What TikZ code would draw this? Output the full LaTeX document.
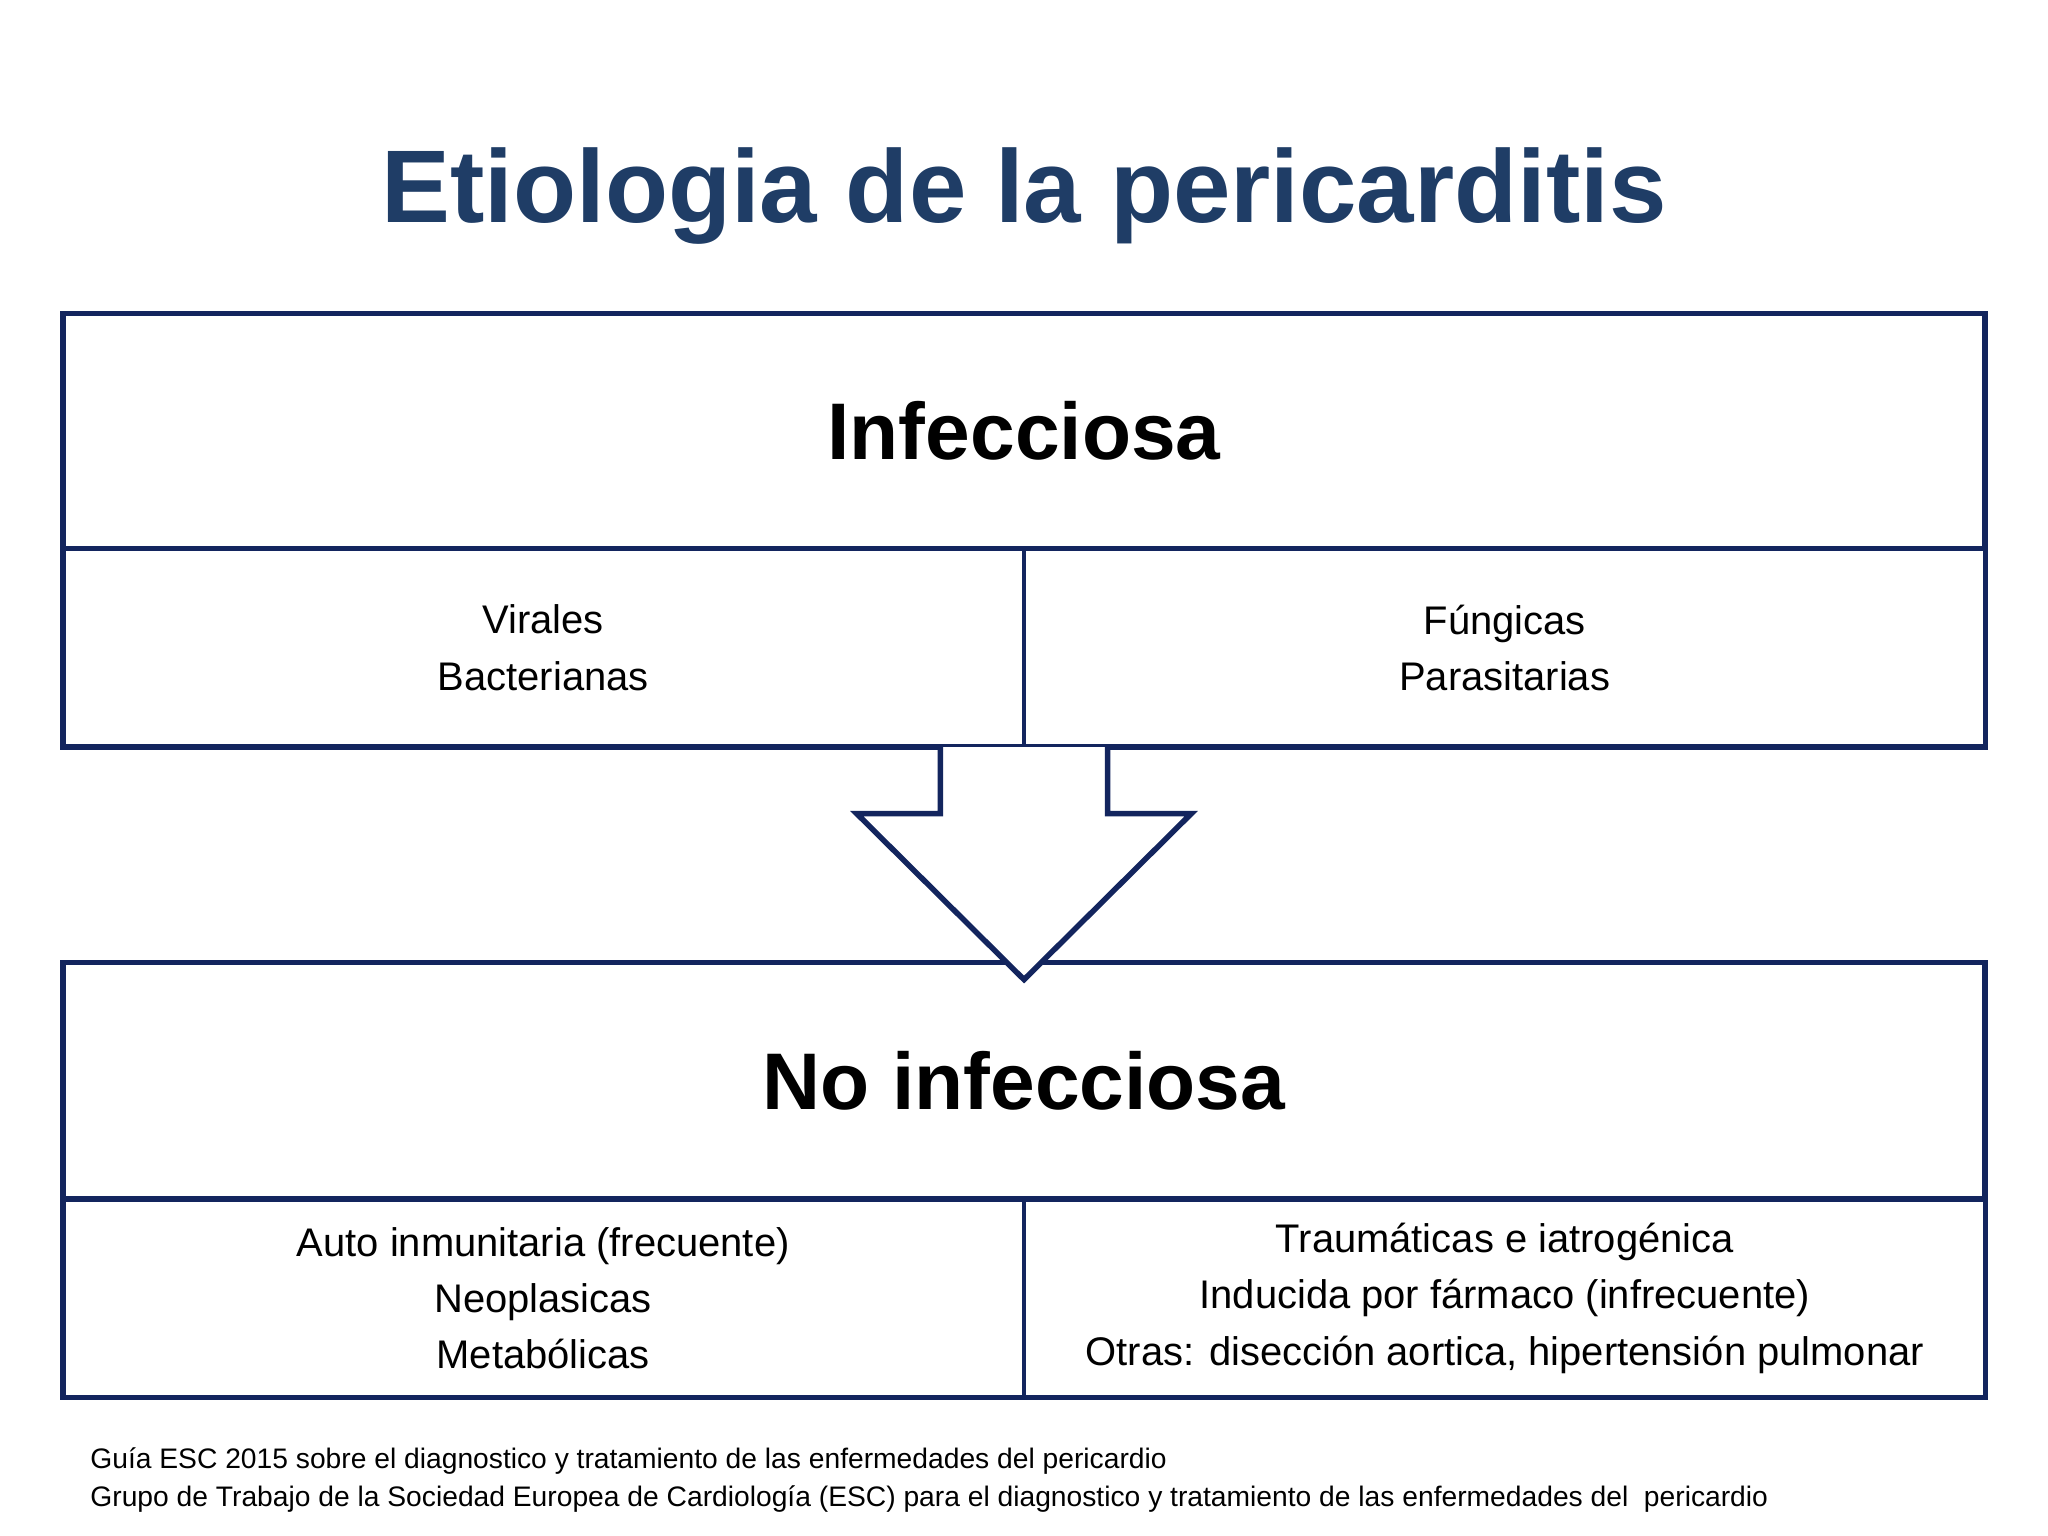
\documentclass[tikz,border=0pt]{standalone}
\usepackage{fontspec}
\setmainfont{Liberation Sans}
\usetikzlibrary{positioning}
\definecolor{navy}{HTML}{13255E}
\definecolor{titleblue}{HTML}{1F3D66}
\tikzset{head box/.style={draw=navy, line width=2.4pt, outer sep=0pt, minimum width=29.44cm, minimum height=3.6cm, inner sep=0pt, font=\fontsize{35}{40}\selectfont\bfseries},
cell box/.style={draw=navy, line width=1.6pt, outer sep=0pt, minimum width=14.72cm, minimum height=3.04cm, inner sep=0pt, align=center, font=\fontsize{17.4}{24.5}\selectfont},}
\begin{document}
\begin{tikzpicture}[x=0.02cm, y=-0.02cm]
				\useasboundingbox (0,0) rectangle (1568,1176);
				% Title
				\node[text=titleblue, font=\fontsize{45}{50}\selectfont\bfseries] (title) at (784,150) {Etiologia de la pericarditis};
				% Infecciosa
				\node[cell box, anchor=north west] (infl) at (48,420) {Virales\\Bacterianas};
				\node[cell box, anchor=north east] (infr) at (1520,420) {Fúngicas\\Parasitarias};
				\node[head box] (inf) at (784,330) {Infecciosa};
				% No infecciosa
				\node[cell box, anchor=north west] (noinfl) at (48,918) {Auto inmunitaria (frecuente)\\Neoplasicas\\Metabólicas};
				\node[cell box, anchor=north east] (noinfr) at (1520,918) {Traumáticas e iatrogénica\\Inducida por fármaco (infrecuente)\\Otras: disección aortica, hipertensión pulmonar};
				\node[head box, minimum height=3.62cm] (noinf) at (784,827.5) {No infecciosa};
				% Outer frames
				\draw[navy, line width=2.4pt] (inf.north west) rectangle (infr.south east);
				\draw[navy, line width=2.4pt] (noinf.north west) rectangle (noinfr.south east);
				% Arrow
				\draw[navy, line width=2.4pt, fill=white, line join=miter]
				(720,572) -- (720,623) -- (656,623) -- (784,750) -- (912,623) -- (848,623) -- (848,572);
				% Reference
				\node[anchor=north west, align=left, font=\fontsize{12.3}{16.5}\selectfont] (ref) at (63,1102) {Guía ESC 2015 sobre el diagnostico y tratamiento de las enfermedades del pericardio\\Grupo de Trabajo de la Sociedad Europea de Cardiología (ESC) para el diagnostico y tratamiento de las enfermedades del\ \ pericardio};
			\end{tikzpicture}
\end{document}
